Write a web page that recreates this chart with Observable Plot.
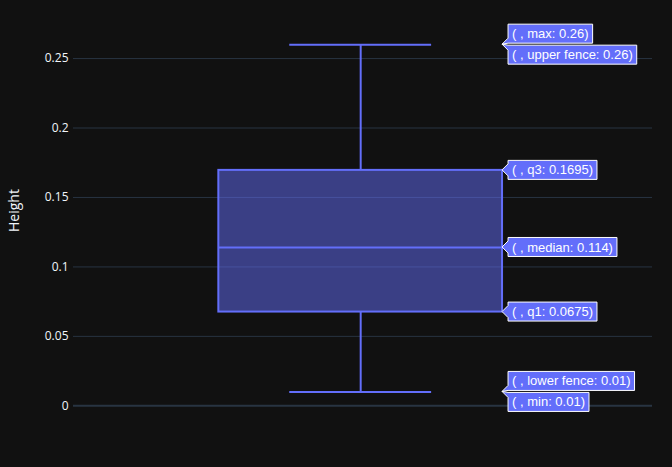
<!DOCTYPE html>
<html>
<head>
<meta charset="utf-8">
<script src="https://cdn.jsdelivr.net/npm/d3@7"></script>
<script src="https://cdn.jsdelivr.net/npm/@observablehq/plot@0.6"></script>
<style>
  html, body { margin: 0; padding: 0; background: #111111; }
  #chart svg { display: block; background: #111111; }
</style>
</head>
<body>
<div id="chart"></div>
<script>
// ---- data ----
const statNames = ["max", "upper fence", "q3", "median", "q1", "lower fence", "min"];
const statValues = [0.26, 0.26, 0.1695, 0.114, 0.0675, 0.01, 0.01];
const yTicks = [0, 0.05, 0.1, 0.15, 0.2, 0.25];
const yTickLabels = ["0", "0.05", "0.1", "0.15", "0.2", "0.25"];
const yTitle = "Height";
const traceName = "";

const stat = Object.fromEntries(statNames.map((n, i) => [n, statValues[i]]));
const boxData = [{x1: -0.245, x2: 0.245, q1: stat.q1, q3: stat.q3, median: stat.median}];
const labels = statNames.map((n, i) => ({name: n, value: statValues[i]}));

const color = "#636efa";

function hoverLabels(index, scales, values, dimensions, context) {
  const g = d3.create("svg:g").attr("text-anchor", "start");
  const canvas = document.createElement("canvas").getContext("2d");
  const fontSize = 13;
  canvas.font = `${fontSize}px Arial, "Liberation Sans"`;
  const tipX = scales.x(0.245);
  const h = 19;
  const counts = d3.group(labels, d => d.value);
  labels.forEach(d => {
    const grp = counts.get(d.value);
    let off = 0;
    if (grp.length > 1) off = grp.indexOf(d) === 0 ? -10.5 : 10.5;
    const ay = scales.y(d.value);
    const cy = ay + off;
    const text = `(${traceName} , ${d.name}: ${d.value})`;
    const w = canvas.measureText(text).width + 8;
    const x0 = tipX + 6;
    const top = cy - h / 2, bot = cy + h / 2;
    let path;
    if (off === 0) {
      path = `M${tipX},${ay}L${x0},${ay - 6}V${top}H${x0 + w}V${bot}H${x0}V${ay + 6}Z`;
    } else if (off < 0) {
      path = `M${tipX},${ay}L${x0},${ay - 6}V${top}H${x0 + w}V${bot}H${x0}Z`;
    } else {
      path = `M${tipX},${ay}L${x0},${top}H${x0 + w}V${bot}H${x0}V${ay + 6}Z`;
    }
    g.append("path").attr("d", path).attr("fill", color).attr("stroke", "#ffffff").attr("stroke-width", 1);
    g.append("text").attr("x", x0 + 4).attr("y", cy).attr("dy", "0.35em")
      .attr("text-anchor", "start")
      .attr("fill", "#ffffff").attr("font-size", fontSize)
      .attr("font-family", 'Arial, "Liberation Sans"').text(text);
  });
  return g.node();
}

const chart = Plot.plot({
  width: 672,
  height: 467,
  marginLeft: 73,
  marginRight: 20,
  marginTop: 20,
  marginBottom: 20,
  style: {background: "#111111", color: "#f2f5fa", fontFamily: '"Open Sans", sans-serif', fontSize: "12px"},
  x: {domain: [-0.496, 0.504], axis: null},
  y: {domain: [-0.03, 0.2774], axis: null},
  marks: [
    Plot.ruleY(yTicks.filter(t => t !== 0), {stroke: "#283442", strokeWidth: 1}),
    Plot.ruleY([0], {stroke: "#283442", strokeWidth: 2}),
    Plot.axisY(yTicks, {tickSize: 0, tickPadding: 5, tickFormat: (d) => yTickLabels[yTicks.indexOf(d)], fill: "#f2f5fa", fontSize: 12, label: null}),
    Plot.text([yTitle], {frameAnchor: "left", dx: -59, dy: -2, rotate: -90, fill: "#f2f5fa", fontSize: 14}),
    Plot.ruleX(boxData, {x: 0, y1: "q3", y2: () => stat["upper fence"], stroke: color, strokeWidth: 2}),
    Plot.ruleX(boxData, {x: 0, y1: "q1", y2: () => stat["lower fence"], stroke: color, strokeWidth: 2}),
    Plot.ruleY([stat["upper fence"], stat["lower fence"]], {x1: -0.1225, x2: 0.1225, stroke: color, strokeWidth: 2}),
    Plot.rect(boxData, {x1: "x1", x2: "x2", y1: "q1", y2: "q3", fill: "rgba(99,110,250,0.5)", stroke: color, strokeWidth: 2}),
    Plot.ruleY(boxData, {y: "median", x1: "x1", x2: "x2", stroke: color, strokeWidth: 2}),
    hoverLabels
  ]
});
document.getElementById("chart").appendChild(chart);
</script>
</body>
</html>
